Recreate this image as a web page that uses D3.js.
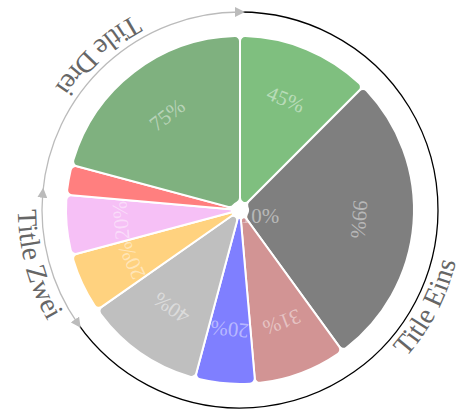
<!DOCTYPE html><html><head><meta charset="utf-8">
<script src="https://cdn.jsdelivr.net/npm/d3@7"></script>
<style>body{margin:0;background:#fff}</style></head><body>
<svg id="c" width="474" height="415"></svg>
<script>
const labels=["45%","99%","31%","20%","40%","20%","20%","10%","75%"];
const values=[45,99,31,20,40,20,20,10,75];
const colors=["green","black","brown","blue","gray","orange","violet","red","darkgreen"];
const groupTitles=["Title Eins","Title Zwei","Title Drei"];
const groupSpans=[[0,235],[235,275],[275,360]];
const cx=240,cy=210,R=174,r0=8,Rg=198,Rt=222;
const svg=d3.select("#c");
const defs=svg.append("defs");
defs.append("marker").attr("id","ar").attr("viewBox","0 0 10 10").attr("refX",5).attr("refY",5)
 .attr("markerWidth",10).attr("markerHeight",10).attr("orient","auto-start-reverse").attr("markerUnits","userSpaceOnUse")
 .append("path").attr("d","M0,0L10,5L0,10Z").attr("fill","#bbb");
const g=svg.append("g").attr("transform",`translate(${cx},${cy})`);
const pie=d3.pie().sort(null).value(d=>d)(values);
const arc=d3.arc().innerRadius(r0).outerRadius(R).cornerRadius(5);
g.selectAll("path.s").data(pie).join("path").attr("class","s").attr("d",arc)
 .attr("fill",(d,i)=>colors[i]).attr("fill-opacity",0.5).attr("stroke","#fff").attr("stroke-width",2);
const rad=d3.scaleLinear().domain([0,360]).range([0,2*Math.PI]);
g.selectAll("text.l").data(pie).join("text").attr("class","l")
 .attr("transform",(d,i)=>{const m=(d.startAngle+d.endAngle)/2;
   if(labels[i]==="10%") return "translate(20,6)";
   return `translate(${Math.sin(m)*120},${-Math.cos(m)*120}) rotate(${m*180/Math.PI})`;})
 .attr("text-anchor","middle").attr("dy","0.35em").attr("fill","#fff").attr("fill-opacity",0.45)
 .attr("font-family","Liberation Serif").attr("font-size",21).text((d,i)=>labels[i]);
groupSpans.forEach((s,i)=>{
  const a0=rad(s[0]),a1=rad(s[1]);
  const p=d3.path();p.arc(0,0,Rg,a0-Math.PI/2,a1-Math.PI/2,false);
  const el=g.append("path").attr("d",p.toString()).attr("fill","none")
   .attr("stroke",i===0?"#000":"#bbb").attr("stroke-width",1.3);
  if(i===1) el.attr("marker-start","url(#ar)").attr("marker-end","url(#ar)");
  if(i===2) el.attr("marker-end","url(#ar)");
  const q=d3.path();q.arc(0,0,Rt,a1-Math.PI/2,a0-Math.PI/2,true);
  g.append("path").attr("id","t"+i).attr("d",q.toString()).attr("fill","none");
  g.append("text").attr("font-family","Liberation Serif").attr("font-size",28).attr("fill","#666")
   .append("textPath").attr("href","#t"+i).attr("startOffset","50%").attr("text-anchor","middle").text(groupTitles[i]);
});
</script></body></html>
